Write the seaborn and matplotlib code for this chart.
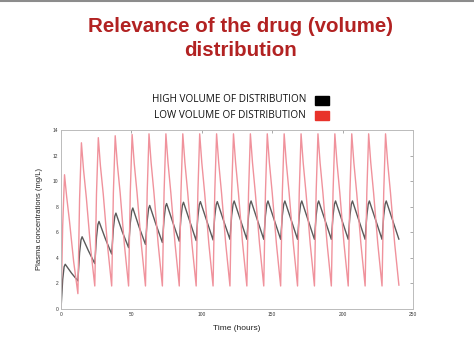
import numpy as np
import pandas as pd
import matplotlib
matplotlib.use("Agg")
import matplotlib.pyplot as plt
import seaborn as sns
from matplotlib.patches import Rectangle
from matplotlib.lines import Line2D

# ---- data (dose every 12 h, 20 doses, 0-240 h) ----
dose_times = [0, 12, 24, 36, 48, 60, 72, 84, 96, 108,
              120, 132, 144, 156, 168, 180, 192, 204, 216, 228]
end_time = 240

# low volume of distribution (red)
red_start = [0.0, 1.2, 1.8, 1.8, 1.8, 1.8, 1.8, 1.8, 1.8, 1.8,
             1.8, 1.8, 1.8, 1.8, 1.8, 1.8, 1.8, 1.8, 1.8, 1.8]
red_rise = [6.5, 8.6, 9.0, 9.1, 9.1, 9.1, 9.1, 9.1, 9.1, 9.1,
            9.1, 9.1, 9.1, 9.1, 9.1, 9.1, 9.1, 9.1, 9.1, 9.1]
red_peak = [10.5, 13.0, 13.4, 13.55, 13.65, 13.7, 13.7, 13.7, 13.7, 13.7,
            13.7, 13.7, 13.7, 13.7, 13.7, 13.7, 13.7, 13.7, 13.7, 13.7]
red_mid0 = [8.8, 10.9, 11.2, 11.35, 11.4, 11.45, 11.45, 11.45, 11.45, 11.45,
            11.45, 11.45, 11.45, 11.45, 11.45, 11.45, 11.45, 11.45, 11.45, 11.45]
red_mid1 = [6.9, 8.7, 9.0, 9.1, 9.1, 9.1, 9.1, 9.1, 9.1, 9.1,
            9.1, 9.1, 9.1, 9.1, 9.1, 9.1, 9.1, 9.1, 9.1, 9.1]
red_mid2 = [3.7, 4.8, 5.0, 5.05, 5.1, 5.1, 5.1, 5.1, 5.1, 5.1,
            5.1, 5.1, 5.1, 5.1, 5.1, 5.1, 5.1, 5.1, 5.1, 5.1]
red_end = 1.85

# high volume of distribution (black)
blk_start = [0.0, 2.2, 3.55, 4.3, 4.8, 5.05, 5.2, 5.3, 5.35, 5.4,
             5.45, 5.45, 5.45, 5.45, 5.45, 5.45, 5.45, 5.45, 5.45, 5.45]
blk_rise = [2.3, 4.4, 5.6, 6.3, 6.7, 6.9, 7.05, 7.15, 7.2, 7.25,
            7.3, 7.3, 7.3, 7.3, 7.3, 7.3, 7.3, 7.3, 7.3, 7.3]
blk_near = [3.3, 5.4, 6.6, 7.25, 7.65, 7.85, 8.0, 8.1, 8.15, 8.15,
            8.2, 8.2, 8.2, 8.2, 8.2, 8.2, 8.2, 8.2, 8.2, 8.2]
blk_peak = [3.5, 5.65, 6.85, 7.5, 7.9, 8.1, 8.25, 8.35, 8.4, 8.4,
            8.45, 8.45, 8.45, 8.45, 8.45, 8.45, 8.45, 8.45, 8.45, 8.45]
blk_mid = [2.8, 4.55, 5.5, 6.05, 6.4, 6.6, 6.75, 6.85, 6.9, 6.9,
           6.95, 6.95, 6.95, 6.95, 6.95, 6.95, 6.95, 6.95, 6.95, 6.95]
blk_end = 5.45

x_ticks = [0, 50, 100, 150, 200, 250]
y_ticks = [0, 2, 4, 6, 8, 10, 12, 14]

# offsets (hours after each dose) at which the values above were read
red_offsets = [0, 1.2, 2.5, 4.0, 6.0, 9.0]
blk_offsets = [0, 1.2, 2.2, 3.0, 7.5]

rt, rc = [], []
for i, d in enumerate(dose_times):
    vals = [red_start[i], red_rise[i], red_peak[i], red_mid0[i],
            red_mid1[i], red_mid2[i]]
    for o, v in zip(red_offsets, vals):
        rt.append(d + o); rc.append(v)
rt.append(end_time); rc.append(red_end)

bt, bc = [], []
for i, d in enumerate(dose_times):
    vals = [blk_start[i], blk_rise[i], blk_near[i], blk_peak[i], blk_mid[i]]
    for o, v in zip(blk_offsets, vals):
        bt.append(d + o); bc.append(v)
bt.append(end_time); bc.append(blk_end)

df = pd.concat([
    pd.DataFrame({"t": bt, "c": bc, "s": "high"}),
    pd.DataFrame({"t": rt, "c": rc, "s": "low"}),
])

sns.set_theme(style="white")
plt.rcParams["font.family"] = ["Liberation Sans", "DejaVu Sans"]

W, H = 474, 346
fig = plt.figure(figsize=(W / 100, H / 100), dpi=100)
ax = fig.add_axes([61 / W, 1 - 309 / H, (413 - 61) / W, (309 - 130) / H])

sns.lineplot(data=df, x="t", y="c", hue="s", sort=False, estimator=None,
             palette={"high": "#5a5a5a", "low": "#F0929C"}, linewidth=1.0,
             legend=False, ax=ax)

ax.set_xlim(0, 250)
ax.set_ylim(0, 14)
ax.set_xticks(x_ticks)
ax.set_yticks(y_ticks)
ax.set_xticklabels([str(v) for v in x_ticks])
ax.set_yticklabels([str(v) for v in y_ticks])
ax.tick_params(direction="in", length=2, width=0.5, labelsize=3.5,
               colors="#888888", labelcolor="#333333", pad=2,
               top=True, right=True)
for sp in ax.spines.values():
    sp.set_color("#bbbbbb")
    sp.set_linewidth(0.7)
ax.set_xlabel("Time (hours)", fontsize=6, color="#222222", labelpad=6)
ax.set_ylabel("Plasma concentrations (mg/L)", fontsize=5.5, color="#222222",
              labelpad=7)

# title
fig.text(240 / W, 1 - 27 / H, "Relevance of the drug (volume)", ha="center",
         va="center", fontsize=14.8, fontweight="bold", color="#B22222")
fig.text(240 / W, 1 - 51 / H, "distribution", ha="center", va="center",
         fontsize=14.8, fontweight="bold", color="#B22222")

# legend
lfont = ["Open Sans", "DejaVu Sans"]
fig.text(306 / W, 1 - 100 / H, "HIGH VOLUME OF DISTRIBUTION", ha="right",
         va="center", fontsize=7.2, color="#111111", family=lfont)
fig.text(306 / W, 1 - 116 / H, "LOW VOLUME OF DISTRIBUTION", ha="right",
         va="center", fontsize=7.2, color="#111111", family=lfont)
fig.add_artist(Rectangle((315 / W, 1 - 104.5 / H), 14 / W, 9 / H,
                         transform=fig.transFigure, color="black"))
fig.add_artist(Rectangle((315 / W, 1 - 120 / H), 14 / W, 9 / H,
                         transform=fig.transFigure, color="#E8322A"))

# top slide border
fig.add_artist(Line2D([0, 1], [1 - 1 / H, 1 - 1 / H], transform=fig.transFigure,
                      color="#8c8c8c", linewidth=1.5))

fig.savefig("out.png", dpi=100)
